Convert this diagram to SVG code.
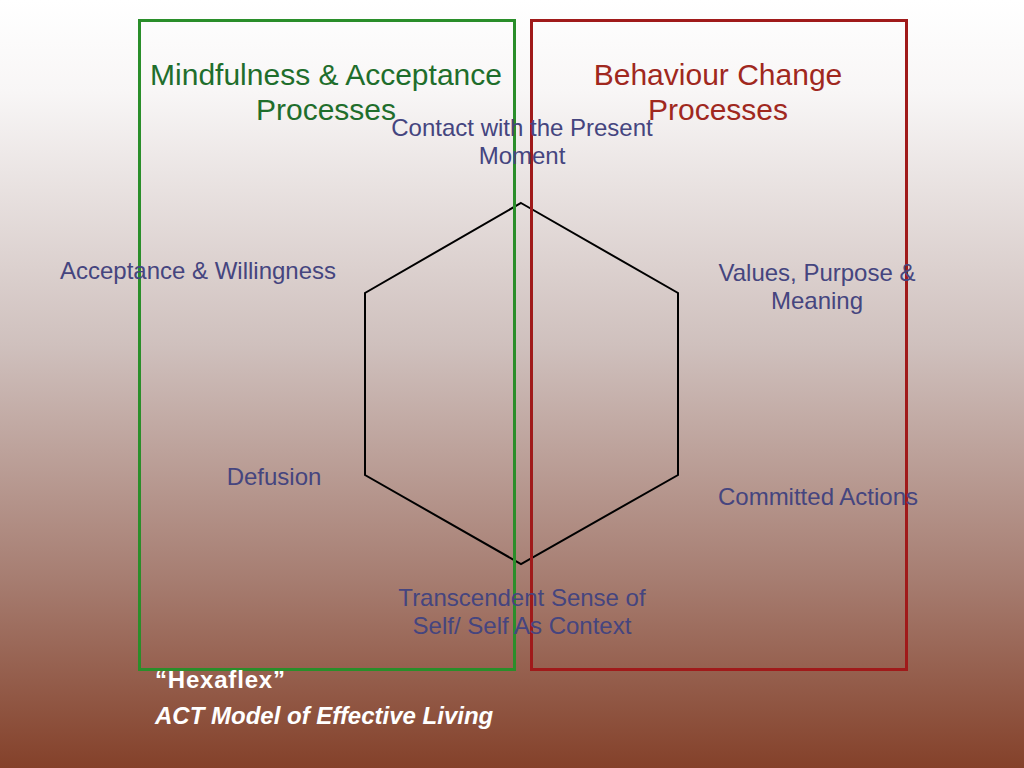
<svg xmlns="http://www.w3.org/2000/svg" width="1024" height="768" viewBox="0 0 1024 768">
<defs>
<linearGradient id="bg" x1="0" y1="0" x2="0" y2="1">
<stop offset="0" stop-color="#ffffff"/>
<stop offset="0.12" stop-color="#f8f6f6"/>
<stop offset="0.45" stop-color="#cfc0bd"/>
<stop offset="0.75" stop-color="#a77e72"/>
<stop offset="1" stop-color="#84412a"/>
</linearGradient>
<style>
.lbl{font-family:"Liberation Sans",Arial,sans-serif;font-size:24px;fill:#45457f;text-anchor:middle}
.head{font-family:"Liberation Sans",Arial,sans-serif;font-size:30px;text-anchor:middle}
.cap{font-family:"Liberation Sans",Arial,sans-serif;font-size:24px;fill:#ffffff;font-weight:bold}
</style>
</defs>
<rect width="1024" height="768" fill="url(#bg)"/>
<g id="hexagon">
<polygon points="521,203 678,293 678,475 521,564 365,475 365,293" fill="none" stroke="#000" stroke-width="2"/>
</g>
<g id="mindfulness-box">
<rect x="139.5" y="20.5" width="375" height="649" fill="none" stroke="#2a8e2a" stroke-width="3"/>
<text class="head" x="326" y="85" fill="#1f6e2c">Mindfulness &amp; Acceptance</text>
<text class="head" x="326" y="120" fill="#1f6e2c">Processes</text>
</g>
<g id="behaviour-box">
<rect x="531.5" y="20.5" width="375" height="649" fill="none" stroke="#a01a1a" stroke-width="3"/>
<text class="head" x="718" y="85" fill="#a0281e">Behaviour Change</text>
<text class="head" x="718" y="120" fill="#a0281e">Processes</text>
</g>
<g id="contact">
<text class="lbl" x="522" y="136">Contact with the Present</text>
<text class="lbl" x="522" y="164">Moment</text>
</g>
<g id="acceptance">
<text class="lbl" x="198" y="279">Acceptance &amp; Willingness</text>
</g>
<g id="values">
<text class="lbl" x="817" y="281">Values, Purpose &amp;</text>
<text class="lbl" x="817" y="309">Meaning</text>
</g>
<g id="defusion">
<text class="lbl" x="274" y="485">Defusion</text>
</g>
<g id="committed">
<text class="lbl" x="818" y="505">Committed Actions</text>
</g>
<g id="self">
<text class="lbl" x="522" y="606">Transcendent Sense of</text>
<text class="lbl" x="522" y="634">Self/ Self As Context</text>
</g>
<g id="caption">
<text class="cap" x="155" y="688" font-size="25px" letter-spacing="0.8">“Hexaflex”</text>
<text class="cap" x="155" y="724" font-style="italic">ACT Model of Effective Living</text>
</g>
<g id="connectors"></g>
</svg>
